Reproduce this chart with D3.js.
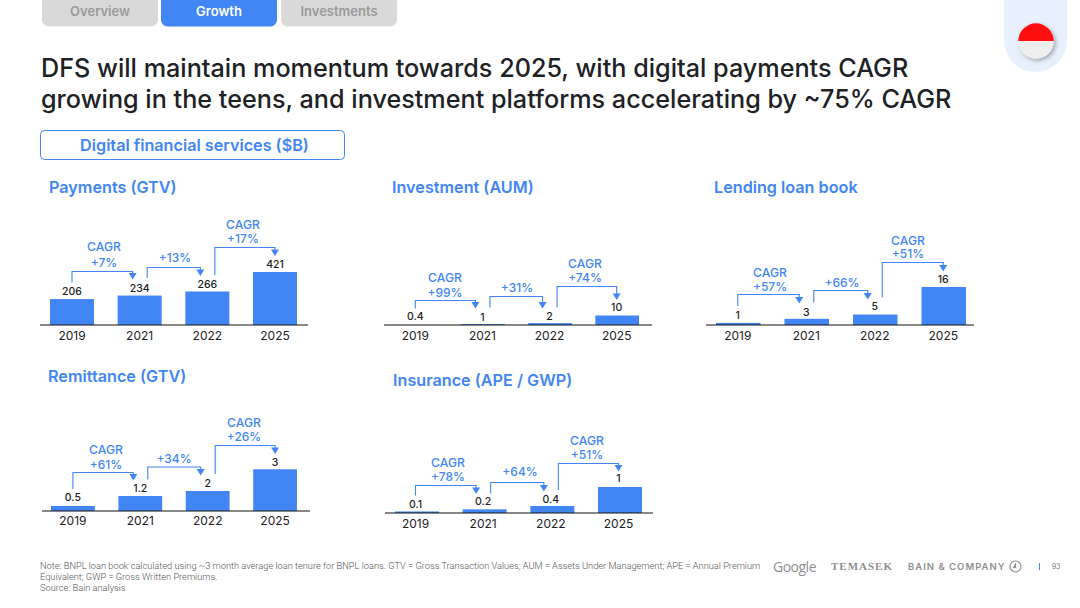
<!DOCTYPE html>
<html>
<head>
<meta charset="utf-8">
<script src="https://cdn.jsdelivr.net/npm/d3@7"></script>
<style>
    html, body { margin: 0; padding: 0; background: #fff; }
    svg { display: block; }
    text { font-family: Inter, Roboto, sans-serif; }
</style>
</head>
<body>
<div id="chart"></div>
<script>
// Chart data
const years = ['2019', '2021', '2022', '2025'];

// bar heights, labels as printed
const paymentsValues = [206, 234, 266, 421];
const paymentsLabels = ['206', '234', '266', '421'];
const paymentsGrowth = ['+7%', '+13%', '+17%'];

const investmentValues = [0.05, 1, 2, 10];
const investmentLabels = ['0.4', '1', '2', '10'];
const investmentGrowth = ['+99%', '+31%', '+74%'];

const lendingValues = [0.9, 2.6, 4.4, 16];
const lendingLabels = ['1', '3', '5', '16'];
const lendingGrowth = ['+57%', '+66%', '+51%'];

const remittanceValues = [0.36, 1.08, 1.44, 3];
const remittanceLabels = ['0.5', '1.2', '2', '3'];
const remittanceGrowth = ['+61%', '+34%', '+26%'];

const insuranceValues = [0.06, 0.14, 0.27, 1];
const insuranceLabels = ['0.1', '0.2', '0.4', '1'];
const insuranceGrowth = ['+78%', '+64%', '+51%'];

const blue = '#4285f4';
const dark = '#202124';

const svg = d3.select('#chart').append('svg')
    .attr('width', 1080)
    .attr('height', 608)
    .attr('viewBox', '0 0 1080 608');

const defs = svg.append('defs');
const shadow = defs.append('filter').attr('id', 'flag-shadow')
    .attr('x', '-30%').attr('y', '-30%').attr('width', '170%').attr('height', '170%');
shadow.append('feDropShadow')
    .attr('dx', 2).attr('dy', 2).attr('stdDeviation', 2)
    .attr('flood-color', '#000').attr('flood-opacity', 0.3);

drawHeader();
drawPanel({
    title: 'Payments (GTV)', titleX: 49, titleY: 187.5,
    values: paymentsValues, labels: paymentsLabels, growth: paymentsGrowth,
    left: 50, right: 297, axisLeft: 40, axisRight: 308, base: 325, maxH: 53, tickY: 335.5, tickDx: 0,
    labelY: [291.5, 288.5, 284.5, 264.5],
    tops: [271.5, 267.5, 247.5], starts: [282.5, 278, 275], tips: [279.5, 276, 256],
    growthX: [104, 175, 243], growthY: [262.5, 257.5, 238.5], cagrY: [246.5, null, 224.5]
});
drawPanel({
    title: 'Investment (AUM)', titleX: 392, titleY: 187.5,
    values: investmentValues, labels: investmentLabels, growth: investmentGrowth,
    left: 394, right: 639, axisLeft: 384, axisRight: 652, base: 325, maxH: 9.5, tickY: 335.5, tickDx: -0.5,
    labelY: [316.5, 317, 316.5, 307.5],
    tops: [300.5, 296.5, 286.5], starts: [308.5, 307.5, 307.5], tips: [308.5, 308.5, 300],
    growthX: [445, 517, 585], growthY: [292.5, 288, 277.5], cagrY: [277.5, null, 264]
});
drawPanel({
    title: 'Lending loan book', titleX: 714, titleY: 187.5,
    values: lendingValues, labels: lendingLabels, growth: lendingGrowth,
    left: 716, right: 966, axisLeft: 706, axisRight: 974, base: 325, maxH: 38, tickY: 335.5, tickDx: -0.5,
    labelY: [315.5, 312, 306.5, 279.5],
    tops: [294.5, 290.5, 262.5], starts: [306, 302.5, 297.5], tips: [303.5, 299.5, 271.5],
    growthX: [770, 842, 908], growthY: [286.5, 283, 254], cagrY: [272.5, null, 240.5]
});
drawPanel({
    title: 'Remittance (GTV)', titleX: 48, titleY: 376.5,
    values: remittanceValues, labels: remittanceLabels, growth: remittanceGrowth,
    left: 51, right: 297, axisLeft: 42, axisRight: 310, base: 511, maxH: 41.7, tickY: 521, tickDx: 0,
    labelY: [497.5, 488.5, 483.5, 462.5],
    tops: [472.5, 467, 445.5], starts: [489, 479.5, 474], tips: [480.5, 475.5, 454],
    growthX: [106, 174, 244], growthY: [464.5, 459, 437], cagrY: [449.5, null, 422.5]
});
drawPanel({
    title: 'Insurance (APE / GWP)', titleX: 393, titleY: 380,
    values: insuranceValues, labels: insuranceLabels, growth: insuranceGrowth,
    left: 395, right: 642, axisLeft: 385, axisRight: 653, base: 513, maxH: 26, tickY: 523.5, tickDx: -1.5,
    labelY: [504.5, 501.5, 499, 478.5],
    tops: [485.5, 482.5, 463.5], starts: [495.5, 493.5, 490], tips: [494, 491.5, 471.5],
    growthX: [448, 520, 587], growthY: [477, 472, 454.5], cagrY: [462.5, null, 440.5]
});
drawFooter();

// One small bar panel with its CAGR brackets
function drawPanel(p) {
    const x = d3.scaleBand()
        .domain(years)
        .range([p.left, p.right])
        .paddingInner(0.35);
    const y = d3.scaleLinear()
        .domain([0, d3.max(p.values)])
        .range([p.base, p.base - p.maxH]);

    const center = i => x(years[i]) + x.bandwidth() / 2 + p.tickDx;
    const g = svg.append('g');

    g.append('text')
        .attr('x', p.titleX)
        .attr('y', p.titleY)
        .attr('dy', '0.36em')
        .attr('font-size', 16.2)
        .attr('font-weight', 600)
        .attr('fill', blue)
        .text(p.title);

    g.selectAll('.bar')
        .data(p.values)
        .enter()
        .append('rect')
        .attr('class', 'bar')
        .attr('x', (d, i) => x(years[i]))
        .attr('y', d => y(d))
        .attr('width', x.bandwidth())
        .attr('height', d => p.base - y(d))
        .attr('fill', blue);

    // axis line runs wider than the bars, so it is drawn on its own
    const axis = g.append('g')
        .attr('transform', `translate(${p.tickDx}, ${p.base})`)
        .call(d3.axisBottom(x).tickSize(0).tickPadding(0));
    axis.select('.domain').remove();
    axis.selectAll('text')
        .attr('y', p.tickY - p.base)
        .attr('dy', '0.36em')
        .attr('font-family', 'Inter, Roboto, sans-serif')
        .attr('font-size', 12)
        .attr('fill', dark);
    g.append('line')
        .attr('x1', p.axisLeft)
        .attr('x2', p.axisRight)
        .attr('y1', p.base)
        .attr('y2', p.base)
        .attr('stroke', '#111')
        .attr('stroke-width', 1);

    g.selectAll('.value-label')
        .data(p.labels)
        .enter()
        .append('text')
        .attr('class', 'value-label')
        .attr('x', (d, i) => center(i))
        .attr('y', (d, i) => p.labelY[i])
        .attr('dy', '0.36em')
        .attr('text-anchor', 'middle')
        .attr('font-size', 10.5)
        .attr('font-weight', 500)
        .attr('fill', dark)
        .text(d => d);

    // Brackets: 2019->2021, 2021->2022, 2022->2025
    const startX = [center(0), center(1) + 7.5, center(2) + 7.5];
    const endX = [center(1) - 7, center(2) - 7, center(3)];

    p.growth.forEach((label, i) => {
        g.append('path')
            .attr('d', `M${startX[i]},${p.starts[i]}V${p.tops[i]}H${endX[i]}V${p.tips[i] - 4}`)
            .attr('fill', 'none')
            .attr('stroke', blue)
            .attr('stroke-width', 1.1);
        g.append('path')
            .attr('d', `M${endX[i] - 4},${p.tips[i] - 6.5}H${endX[i] + 4}L${endX[i]},${p.tips[i]}Z`)
            .attr('fill', blue);

        g.append('text')
            .attr('x', p.growthX[i])
            .attr('y', p.growthY[i])
            .attr('dy', '0.36em')
            .attr('text-anchor', 'middle')
            .attr('font-size', 12)
            .attr('font-weight', 500)
            .attr('fill', blue)
            .text(label);

        if (p.cagrY[i] !== null) {
            g.append('text')
                .attr('x', p.growthX[i])
                .attr('y', p.cagrY[i])
                .attr('dy', '0.36em')
                .attr('text-anchor', 'middle')
                .attr('font-size', 12.2)
                .attr('font-weight', 500)
                .attr('fill', blue)
                .text('CAGR');
        }
    });
}

// Tabs, flag, title and the boxed subtitle
function drawHeader() {
    const tabs = [
        { label: 'Overview', x: 42, fill: '#d9d9d9', color: '#9a9a9a' },
        { label: 'Growth', x: 161, fill: blue, color: '#fff' },
        { label: 'Investments', x: 281, fill: '#d9d9d9', color: '#9a9a9a' }
    ];
    tabs.forEach(t => {
        svg.append('path')
            .attr('d', `M${t.x},0V20a6.5,6.5 0 0 0 6.5,6.5H${t.x + 109.5}a6.5,6.5 0 0 0 6.5,-6.5V0Z`)
            .attr('fill', t.fill);
        svg.append('text')
            .attr('x', t.x + 58)
            .attr('y', 11)
            .attr('dy', '0.36em')
            .attr('text-anchor', 'middle')
            .attr('font-size', 13)
            .attr('font-weight', 600)
            .attr('fill', t.color)
            .text(t.label);
    });

    // flag tab in the corner
    svg.append('path')
        .attr('d', 'M1004,0V40.5a31.5,31.5 0 0 0 63,0V0Z')
        .attr('fill', '#e8f0fe');
    svg.append('circle')
        .attr('cx', 1036)
        .attr('cy', 41)
        .attr('r', 17.7)
        .attr('fill', '#eeeeee')
        .attr('filter', 'url(#flag-shadow)');
    svg.append('path')
        .attr('d', 'M1018.3,41a17.7,17.7 0 0 1 35.4,0Z')
        .attr('fill', '#ff0f0f');

    const titleLines = [
        'DFS will maintain momentum towards 2025, with digital payments CAGR',
        'growing in the teens, and investment platforms accelerating by ~75% CAGR'
    ];
    svg.selectAll('.title-line')
        .data(titleLines)
        .enter()
        .append('text')
        .attr('class', 'title-line')
        .attr('x', 41)
        .attr('y', (d, i) => 68 + i * 31)
        .attr('dy', '0.36em')
        .attr('font-size', 25.2)
        .attr('font-weight', 500)
        .attr('fill', dark)
        .text(d => d);

    svg.append('rect')
        .attr('x', 40.5)
        .attr('y', 130.5)
        .attr('width', 304)
        .attr('height', 29)
        .attr('rx', 4)
        .attr('fill', '#fff')
        .attr('stroke', blue)
        .attr('stroke-width', 1);
    svg.append('text')
        .attr('x', 194.5)
        .attr('y', 145)
        .attr('dy', '0.36em')
        .attr('text-anchor', 'middle')
        .attr('font-size', 16.2)
        .attr('font-weight', 600)
        .attr('fill', blue)
        .text('Digital financial services ($B)');
}

// Notes, logos as text and the page number
function drawFooter() {
    const notes = [
        'Note: BNPL loan book calculated using ~3 month average loan tenure for BNPL loans. GTV = Gross Transaction Values; AUM = Assets Under Management; APE = Annual Premium',
        'Equivalent; GWP = Gross Written Premiums.',
        'Source: Bain analysis'
    ];
    svg.selectAll('.note')
        .data(notes)
        .enter()
        .append('text')
        .attr('class', 'note')
        .attr('x', 40)
        .attr('y', (d, i) => 566 + i * 11)
        .attr('dy', '0.36em')
        .style('font-family', 'Roboto, sans-serif')
        .attr('font-size', 9.25)
        .attr('font-weight', 300)
        .attr('fill', '#555')
        .text(d => d);

    const gray = '#8f8f8f';
    svg.append('text')
        .attr('x', 773).attr('y', 566.5).attr('dy', '0.36em')
        .style('font-family', '"Open Sans", sans-serif')
        .attr('font-size', 14)
        .attr('letter-spacing', -0.5)
        .attr('fill', gray)
        .text('Google');
    svg.append('text')
        .attr('x', 831).attr('y', 566.5).attr('dy', '0.36em')
        .style('font-family', '"Liberation Serif", serif')
        .attr('font-size', 11)
        .attr('font-weight', 700)
        .attr('letter-spacing', 1)
        .attr('fill', gray)
        .text('TEMASEK');
    svg.append('text')
        .attr('x', 908).attr('y', 566.5).attr('dy', '0.36em')
        .attr('font-size', 9.5)
        .attr('font-weight', 600)
        .attr('letter-spacing', 1)
        .attr('fill', gray)
        .text('BAIN & COMPANY');
    svg.append('circle')
        .attr('cx', 1015.5).attr('cy', 566.5).attr('r', 5.5)
        .attr('fill', 'none').attr('stroke', gray).attr('stroke-width', 1.2);
    svg.append('path')
        .attr('d', 'M1016,562.5V568H1012.5Z')
        .attr('fill', gray);

    svg.append('line')
        .attr('x1', 1039.5).attr('x2', 1039.5).attr('y1', 563).attr('y2', 570)
        .attr('stroke', blue).attr('stroke-width', 1);
    svg.append('text')
        .attr('x', 1056).attr('y', 566.5).attr('dy', '0.36em')
        .attr('text-anchor', 'middle')
        .attr('font-size', 7)
        .attr('fill', '#777')
        .text('93');
}
</script>
</body>
</html>
